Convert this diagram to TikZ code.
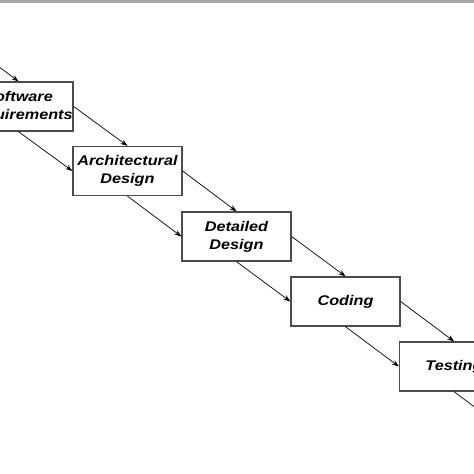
\documentclass[tikz,border=0pt]{standalone}
\usepackage{fontspec}
\setmainfont{Liberation Sans}[FakeStretch=1.16]
\usetikzlibrary{arrows.meta}
\begin{document}
\begin{tikzpicture}[x=1pt,y=-1pt,
  stage/.style={draw=black!70,line width=1.3pt,fill=white,minimum width=109pt,minimum height=49pt,
    inner sep=0pt,align=center,font=\fontsize{14}{18}\selectfont\bfseries\itshape},
  flow/.style={-{Stealth[length=7pt,width=5pt]},line width=0.7pt,black}]
\useasboundingbox (0,0) rectangle (474,474);
\clip (0,0) rectangle (474,474);
\fill[white] (0,0) rectangle (474,474);
\fill[black!35] (0,0) rectangle (474,2.5);
\node[stage] (b1) at (18.5,106.5) {Software\\Requirements};
\node[stage] (b2) at (127.5,171) {Architectural\\Design};
\node[stage] (b3) at (236.5,236.5) {Detailed\\Design};
\node[stage] (b4) at (345.5,301.5) {Coding};
\node[stage] (b5) at (454,366.5) {Testing};
\coordinate (start) at (-25,49);
\coordinate (out) at (500,426);
\draw[flow] (start) -- (b1.north);
\foreach \a/\b in {b1/b2,b2/b3,b3/b4,b4/b5}{
  \draw[flow] (\a.east) -- (\b.north);
  \draw[flow] (\a.south) -- (\b.west);
}
\draw[flow] (b5.south) -- (out);
\end{tikzpicture}
\end{document}
